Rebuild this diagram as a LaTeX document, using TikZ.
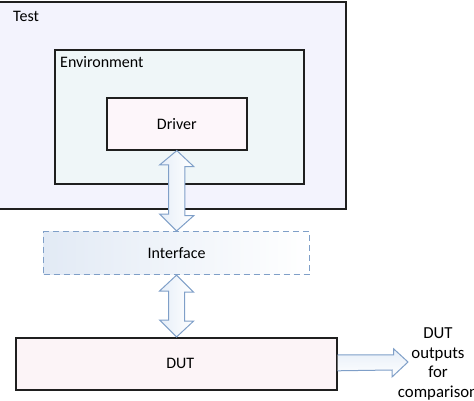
\documentclass[tikz,border=0pt]{standalone}
\usepackage{fontspec}
\setmainfont{Carlito}
\usetikzlibrary{calc}
\definecolor{testfill}{HTML}{F3F3FD}
\definecolor{envfill}{HTML}{EFF6F8}
\definecolor{drvfill}{HTML}{FDF6FA}
\definecolor{dutfill}{HTML}{FCF4F7}
\definecolor{boxline}{HTML}{1F1F1F}
\definecolor{arrowline}{HTML}{7F9FC8}
\definecolor{ifblue}{HTML}{E2EAF5}
\definecolor{arblue}{HTML}{E6EEF8}
\tikzset{
  box/.style={draw=boxline, line width=1.6pt, inner sep=0pt, anchor=north west},
  lbl/.style={font=\fontsize{16}{19.5}\selectfont, text=black, inner sep=0pt},
  bigarrow/.style={draw=arrowline, line width=1pt, line join=miter, left color=arblue, right color=white},
}
\begin{document}
\begin{tikzpicture}[x=1pt,y=-1pt]
\useasboundingbox (0,0) rectangle (474,401);
% boxes
\node[box, fill=testfill, line width=2pt, minimum width=348, minimum height=207] (test) at (-3,1) {};
\node[lbl, anchor=west] (testlbl) at (13,16) {Test};
\node[box, fill=envfill, minimum width=249, minimum height=134] (env) at (54,49) {};
\node[lbl, anchor=west] (envlbl) at (60,62) {Environment};
\node[box, fill=drvfill, minimum width=140, minimum height=52] (driver) at (106,97) {};
\node[lbl] (drvlbl) at (driver.center) {Driver};
\node[box, draw=arrowline, line width=1.1pt, dash pattern=on 6pt off 4pt, left color=ifblue, right color=white, minimum width=266, minimum height=43] (interface) at (43,231) {};
\node[lbl] (iflbl) at (interface.center) {Interface};
\node[box, fill=dutfill, minimum width=321, minimum height=52] (dut) at (15,337) {};
\node[lbl] (dutlbl) at ($(dut.center)+(4,0)$) {DUT};
\node[lbl, font=\fontsize{16.8}{19.5}\selectfont, align=center] (outtxt) at (438,364) {DUT\\outputs\\for\\comparison};
% double arrow driver <-> interface
\draw[bigarrow] (driver.south) -- ++(17,16) -- ++(-9,0) -- ++(0,49) -- ++(9,0) -- (interface.north)
  -- ++(-17,-17) -- ++(9,0) -- ++(0,-49) -- ++(-9,0) -- cycle;
% double arrow interface <-> DUT
\coordinate (dutn) at (interface.south |- dut.north);
\draw[bigarrow] (interface.south) -- ++(17,17) -- ++(-9,0) -- ++(0,29) -- ++(9,0) -- (dutn)
  -- ++(-17,-17) -- ++(9,0) -- ++(0,-29) -- ++(-9,0) -- cycle;
% output arrow
\coordinate (tip) at (408,362);
\draw[bigarrow, top color=arblue, bottom color=white] ($(dut.east)+(0,-9)$) -- ++(56,0) -- ++(0,-6) -- (tip) -- ++(-16,15) -- ++(0,-7) -- ($(dut.east)+(0,7)$);
\end{tikzpicture}
\end{document}
